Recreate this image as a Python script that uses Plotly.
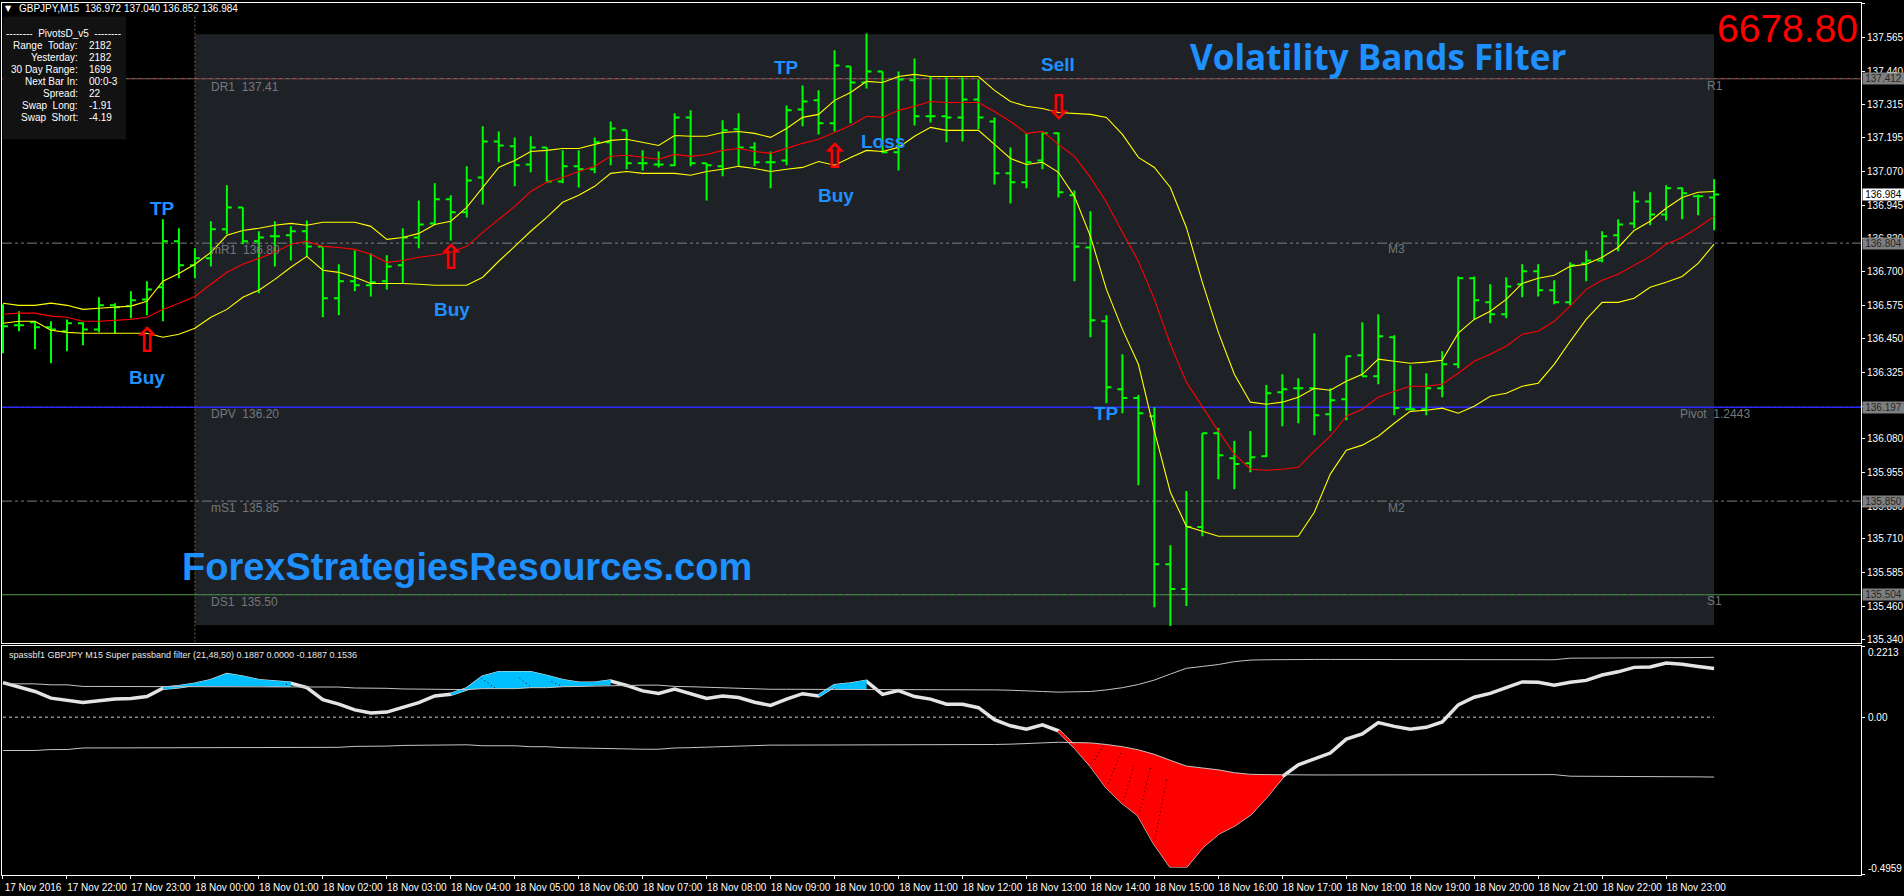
import plotly.graph_objects as go

# ---------- price data (GBPJPY M15, 108 bars) ----------
opens = [136.500,136.500,136.511,136.493,136.478,136.508,136.485,136.574,136.571,136.596,
136.641,136.811,136.722,136.748,136.855,136.936,136.811,136.829,136.833,136.848,
136.792,136.600,136.663,136.648,136.663,136.722,136.825,136.877,136.966,136.918,
137.047,137.180,137.162,137.095,137.158,137.032,137.088,137.077,137.177,137.221,
137.099,137.095,137.092,137.269,137.099,137.088,137.225,137.158,137.103,137.110,
137.298,137.332,137.247,137.457,137.398,137.439,137.140,137.406,137.273,137.273,
137.269,137.335,137.254,137.062,137.029,137.110,137.210,136.981,136.788,136.515,
136.264,136.231,136.164,135.617,135.525,135.754,136.101,136.009,135.990,136.016,
136.253,136.267,136.267,136.171,136.227,136.389,136.312,136.456,136.190,136.190,
136.267,136.356,136.674,136.585,136.541,136.652,136.700,136.630,136.585,136.729,
136.740,136.833,136.877,136.958,136.910,137.007,136.977,136.973]
highs = [136.578,136.552,136.515,136.515,136.522,136.511,136.604,136.582,136.626,136.663,
136.892,136.859,136.785,136.885,137.018,136.936,136.848,136.885,136.866,136.888,
136.788,136.726,136.777,136.766,136.759,136.859,136.962,137.025,136.981,137.088,
137.236,137.217,137.195,137.199,137.158,137.147,137.147,137.195,137.254,137.221,
137.147,137.143,137.284,137.295,137.099,137.258,137.284,137.177,137.143,137.313,
137.387,137.369,137.517,137.457,137.579,137.439,137.439,137.487,137.420,137.417,
137.417,137.409,137.269,137.158,137.210,137.213,137.213,136.999,136.922,136.537,
136.393,136.242,136.197,135.687,135.887,136.101,136.120,136.072,136.109,136.279,
136.319,136.304,136.471,136.267,136.386,136.511,136.541,136.463,136.352,136.323,
136.404,136.681,136.681,136.652,136.678,136.726,136.726,136.667,136.733,136.777,
136.848,136.892,136.995,136.992,137.018,137.010,136.984,137.040]
lows = [136.397,136.478,136.412,136.360,136.404,136.426,136.474,136.471,136.526,136.537,
136.515,136.674,136.674,136.718,136.837,136.800,136.619,136.718,136.740,136.755,
136.530,136.537,136.626,136.607,136.633,136.655,136.785,136.873,136.814,136.899,
136.947,137.103,137.014,137.066,137.032,137.025,137.010,137.062,137.092,137.077,
137.073,137.084,137.088,137.088,136.962,137.051,137.088,137.088,137.007,137.092,
137.236,137.206,137.217,137.247,137.376,137.136,137.073,137.239,137.250,137.177,
137.180,137.225,137.021,136.951,137.007,137.077,136.973,136.663,136.456,136.212,
136.175,135.909,135.458,135.388,135.462,135.720,135.931,135.894,135.957,136.012,
136.127,136.138,136.094,136.109,136.149,136.312,136.282,136.168,136.186,136.168,
136.234,136.341,136.522,136.508,136.526,136.604,136.607,136.578,136.574,136.663,
136.733,136.774,136.859,136.870,136.888,136.892,136.907,136.852]
closes = [136.497,136.500,136.493,136.485,136.508,136.485,136.574,136.567,136.593,136.633,
136.811,136.722,136.748,136.855,136.936,136.811,136.825,136.829,136.848,136.792,
136.600,136.663,136.648,136.659,136.718,136.825,136.873,136.966,136.918,137.036,
137.180,137.165,137.092,137.158,137.032,137.088,137.077,137.177,137.228,137.099,
137.099,137.095,137.269,137.099,137.092,137.221,137.158,137.103,137.103,137.295,
137.328,137.247,137.461,137.398,137.439,137.140,137.409,137.273,137.273,137.269,
137.335,137.269,137.062,137.029,137.103,137.210,136.992,136.792,136.519,136.271,
136.231,136.175,135.617,135.525,135.754,136.101,136.020,135.987,136.012,136.249,
136.264,136.267,136.168,136.223,136.386,136.312,136.460,136.194,136.190,136.267,
136.356,136.674,136.593,136.541,136.644,136.700,136.630,136.585,136.722,136.740,
136.829,136.873,136.958,136.910,137.007,136.988,136.977,136.984]
band_upper = [136.582,136.574,136.574,136.582,136.574,136.559,136.563,136.567,136.571,136.589,
136.663,136.692,136.726,136.770,136.833,136.851,136.859,136.870,136.877,136.870,
136.881,136.881,136.881,136.866,136.818,136.825,136.840,136.873,136.885,136.936,
137.010,137.084,137.110,137.143,137.147,137.154,137.154,137.169,137.184,137.188,
137.177,137.165,137.202,137.199,137.199,137.213,137.217,137.210,137.195,137.228,
137.269,137.280,137.332,137.361,137.402,137.398,137.420,137.428,137.420,137.420,
137.420,137.420,137.369,137.328,137.310,137.302,137.287,137.284,137.280,137.269,
137.206,137.121,137.084,137.010,136.862,136.659,136.474,136.319,136.216,136.208,
136.216,136.234,136.267,136.260,136.293,136.319,136.375,136.367,136.360,136.364,
136.371,136.471,136.522,136.552,136.596,136.655,136.674,136.685,136.718,136.726,
136.752,136.788,136.851,136.885,136.933,136.973,136.992,136.995]
band_mid = [136.541,136.545,136.545,136.534,136.530,136.515,136.515,136.519,136.522,136.530,
136.559,136.582,136.607,136.652,136.696,136.726,136.748,136.770,136.800,136.811,
136.792,136.788,136.781,136.763,136.733,136.740,136.752,136.759,136.770,136.792,
136.844,136.892,136.940,136.995,137.029,137.047,137.069,137.088,137.125,137.129,
137.121,137.114,137.132,137.125,137.132,137.147,137.154,137.143,137.136,137.154,
137.173,137.188,137.213,137.239,137.273,137.269,137.295,137.310,137.328,137.324,
137.324,137.324,137.291,137.254,137.210,137.217,137.169,137.125,137.047,136.955,
136.844,136.737,136.596,136.430,136.290,136.197,136.109,136.024,135.968,135.964,
135.968,135.975,136.035,136.090,136.164,136.190,136.234,136.256,136.275,136.275,
136.282,136.323,136.367,136.393,136.423,136.467,136.478,136.515,136.571,136.633,
136.667,136.689,136.722,136.755,136.800,136.825,136.862,136.903]
band_lower = [136.508,136.515,136.515,136.482,136.474,136.471,136.471,136.471,136.471,136.471,
136.456,136.467,136.489,136.530,136.559,136.604,136.630,136.670,136.715,136.755,
136.704,136.696,136.678,136.655,136.655,136.655,136.652,136.648,136.648,136.648,
136.678,136.737,136.792,136.848,136.899,136.955,136.981,137.014,137.062,137.069,
137.062,137.062,137.062,137.055,137.069,137.077,137.088,137.080,137.069,137.077,
137.084,137.106,137.092,137.121,137.147,137.143,137.158,137.199,137.232,137.221,
137.221,137.221,137.169,137.117,137.095,137.103,137.066,136.977,136.829,136.633,
136.485,136.356,136.109,135.883,135.757,135.739,135.720,135.720,135.720,135.720,
135.720,135.720,135.809,135.950,136.038,136.057,136.090,136.138,136.182,136.186,
136.194,136.175,136.201,136.238,136.249,136.275,136.286,136.356,136.441,136.522,
136.585,136.585,136.600,136.641,136.659,136.681,136.729,136.800]

# ---------- passband filter data ----------
filter_main = [0.109,0.094,0.081,0.060,0.052,0.046,0.052,0.057,0.059,0.065,
0.091,0.096,0.104,0.115,0.134,0.126,0.115,0.110,0.107,0.093,
0.055,0.041,0.023,0.013,0.016,0.031,0.046,0.067,0.072,0.089,
0.126,0.140,0.140,0.140,0.128,0.115,0.107,0.107,0.114,0.100,
0.083,0.075,0.089,0.075,0.059,0.067,0.062,0.047,0.037,0.057,
0.074,0.067,0.099,0.105,0.113,0.072,0.084,0.065,0.057,0.041,
0.041,0.030,-0.008,-0.027,-0.038,-0.024,-0.043,-0.092,-0.150,-0.218,
-0.268,-0.307,-0.396,-0.468,-0.468,-0.407,-0.365,-0.339,-0.304,-0.249,
-0.187,-0.150,-0.132,-0.113,-0.069,-0.053,-0.017,-0.029,-0.038,-0.032,
-0.015,0.039,0.063,0.075,0.093,0.111,0.110,0.101,0.110,0.116,
0.133,0.143,0.157,0.158,0.171,0.167,0.160,0.1536]
filter_upper = [0.105,0.105,0.105,0.102,0.102,0.097,0.097,0.097,0.097,0.097,
0.097,0.097,0.097,0.097,0.097,0.097,0.097,0.095,0.095,0.095,
0.095,0.095,0.092,0.092,0.091,0.089,0.089,0.087,0.087,0.087,
0.090,0.090,0.090,0.093,0.093,0.096,0.097,0.099,0.101,0.101,
0.101,0.101,0.097,0.096,0.094,0.092,0.090,0.090,0.088,0.088,
0.088,0.088,0.088,0.088,0.088,0.088,0.088,0.088,0.088,0.088,
0.087,0.086,0.086,0.085,0.082,0.081,0.079,0.079,0.081,0.086,
0.093,0.103,0.117,0.136,0.154,0.160,0.166,0.175,0.180,0.181,
0.182,0.182,0.182,0.182,0.182,0.182,0.182,0.181,0.181,0.181,
0.181,0.181,0.181,0.181,0.181,0.181,0.181,0.181,0.186,0.186,
0.186,0.186,0.188,0.188,0.188,0.188,0.188,0.1887]
filter_lower = [-0.105,-0.105,-0.105,-0.102,-0.102,-0.097,-0.097,-0.097,-0.097,-0.097,
-0.097,-0.097,-0.097,-0.097,-0.097,-0.097,-0.097,-0.095,-0.095,-0.095,
-0.095,-0.095,-0.092,-0.092,-0.091,-0.089,-0.089,-0.087,-0.087,-0.087,
-0.090,-0.090,-0.090,-0.093,-0.093,-0.096,-0.097,-0.099,-0.101,-0.101,
-0.101,-0.101,-0.097,-0.096,-0.094,-0.092,-0.090,-0.090,-0.088,-0.088,
-0.088,-0.088,-0.088,-0.088,-0.088,-0.088,-0.088,-0.088,-0.088,-0.088,
-0.087,-0.086,-0.086,-0.085,-0.082,-0.081,-0.079,-0.079,-0.081,-0.086,
-0.093,-0.103,-0.117,-0.136,-0.154,-0.160,-0.166,-0.175,-0.180,-0.181,
-0.182,-0.182,-0.182,-0.182,-0.182,-0.182,-0.182,-0.181,-0.181,-0.181,
-0.181,-0.181,-0.181,-0.181,-0.181,-0.181,-0.181,-0.181,-0.186,-0.186,
-0.186,-0.186,-0.188,-0.188,-0.188,-0.188,-0.188,-0.1887]

# faint black dotted strokes seen inside the filled filter areas
dot_bars = [68.8,68.1,None,69.9,69.05,None,70.7,70.06,None,71.75,71.07,None,72.76,72.04,None,
            29.9,30.8,None,32.3,33.0,None,34.3,34.9,None,17.75,17.55]
dot_values = [-0.090,-0.145,None,-0.113,-0.218,None,-0.153,-0.267,None,-0.160,-0.302,None,-0.197,-0.386,None,
              0.123,0.091,None,0.123,0.096,None,0.112,0.099,None,0.104,0.097]

# ---------- signals, levels, axis labels ----------
buy_bars = [9, 28, 52]
buy_prices = [136.432, 136.740, 137.114]
sell_bars = [66]
sell_prices = [137.295]
time_labels = ["17 Nov 2016", "17 Nov 22:00", "17 Nov 23:00"] + \
    ["18 Nov %02d:00" % h for h in range(24)]
time_positions = list(range(0, 108, 4))
price_ticks = [137.690,137.565,137.440,137.315,137.195,137.070,136.945,136.820,136.700,136.575,
               136.450,136.325,136.200,136.080,135.955,135.830,135.710,135.585,135.460,135.340]
filter_ticks = [0.2213, 0.0, -0.4959]
level_r1, level_m3, level_pivot, level_m2, level_s1 = 137.412, 136.804, 136.197, 135.850, 135.504
last_price = 136.984

W, H = 1904, 896
BLUE = "#1e90ff"
bars = list(range(len(closes)))
XR = [-0.0625, 116.1875]
YR = [135.327, 137.692]
Y2R = [-0.4959, 0.2242]

fig = go.Figure()

def line(y, color, width=1, xa="x", ya="y", dash=None):
    fig.add_trace(go.Scatter(x=bars, y=y, mode="lines", xaxis=xa, yaxis=ya, hoverinfo="skip",
                             line=dict(color=color, width=width, dash=dash), showlegend=False))

line(band_upper, "#ffff00", 1.1)
line(band_lower, "#ffff00", 1.1)
line(band_mid, "#ff0000", 1.1)

fig.add_trace(go.Ohlc(x=bars, open=opens, high=highs, low=lows, close=closes, tickwidth=0.31,
                      increasing=dict(line=dict(color="#00ff00", width=2)),
                      decreasing=dict(line=dict(color="#00ff00", width=2)),
                      hoverinfo="skip", showlegend=False))

arrow_font = dict(family="DejaVu Sans", size=34, color="#ff0000", weight="bold")
fig.add_trace(go.Scatter(x=buy_bars, y=buy_prices, mode="text", text=["\u21e7"] * len(buy_bars),
                         textposition="middle center", hoverinfo="skip", showlegend=False, textfont=arrow_font))
fig.add_trace(go.Scatter(x=sell_bars, y=sell_prices, mode="text", text=["\u21e9"] * len(sell_bars),
                         textposition="middle center", hoverinfo="skip", showlegend=False, textfont=arrow_font))

# filter panel
def fill_between(a, b, band, color):
    idx = list(range(a, b + 1))
    fig.add_trace(go.Scatter(x=idx + idx[::-1], y=[filter_main[i] for i in idx] + [band[i] for i in idx[::-1]],
                             fill="toself", fillcolor=color, mode="none", xaxis="x2", yaxis="y2",
                             hoverinfo="skip", showlegend=False))

fig.add_trace(go.Scatter(x=[0, 107], y=[0, 0], mode="lines", xaxis="x2", yaxis="y2", hoverinfo="skip",
                         line=dict(color="#d0d0d0", width=1, dash="3px,3px"), showlegend=False))
line(filter_main, "#e4e4e4", 3.5, "x2", "y2")
for a, b in [(10, 18), (29, 38), (52, 54)]:
    fill_between(a, b, filter_upper, "#00bfff")
fill_between(67, 80, filter_lower, "#ff0000")

def seg(a, b, color):
    idx = list(range(a, b + 1))
    fig.add_trace(go.Scatter(x=idx, y=[filter_main[i] for i in idx], mode="lines", xaxis="x2", yaxis="y2",
                             hoverinfo="skip", line=dict(color=color, width=2.5), showlegend=False))
seg(10, 18, "#00bfff"); seg(28, 38, "#00bfff"); seg(51, 54, "#00bfff"); seg(66, 80, "#ff0000")
line(filter_upper, "#c4c4c4", 1, "x2", "y2")
line(filter_lower, "#c4c4c4", 1, "x2", "y2")
fig.add_trace(go.Scatter(x=dot_bars, y=dot_values, mode="lines", xaxis="x2", yaxis="y2", hoverinfo="skip",
                         line=dict(color="#000000", width=1, dash="1px,3px"), showlegend=False))

# ---------- shapes ----------
shapes = []
def rect(x0, x1, y0, y1, color):
    shapes.append(dict(type="rect", xref="x", yref="y", x0=x0, x1=x1, y0=y0, y1=y1,
                       fillcolor=color, line=dict(width=0), layer="below"))
def hline(y, color, dash, width=1):
    shapes.append(dict(type="line", xref="x", yref="y", x0=XR[0], x1=XR[1], y0=y, y1=y,
                       line=dict(color=color, width=width, dash=dash), layer="below"))

rect(12, 107, 135.392, 137.576, "#1e2226")
GD = "10px,3px,3px,3px,3px,3px"
hline(level_r1, "#7f7f7f", "solid"); hline(level_r1, "#8c1c1c", "4px,3px")
hline(level_m3, "#7f7f7f", GD)
hline(level_pivot, "#7f7f7f", "solid", 0.6); hline(level_pivot, "#2a2aff", "5px,1px", 1.4)
hline(level_m2, "#7f7f7f", GD)
hline(level_s1, "#7f7f7f", "solid"); hline(level_s1, "#0c8c0c", "4px,3px")
rect(0, 7.69, 137.188, 137.642, "#121212")
shapes.append(dict(type="line", xref="x", yref="y", x0=12, x1=12, y0=YR[0], y1=137.642,
                   line=dict(color="#6b5a3a", width=1, dash="2px,2px"), layer="below"))

# ---------- text ----------
ann = []
def txt(px, py, text, size=10, color="#ffffff", anchor="left", family="Liberation Sans"):
    ann.append(dict(xref="paper", yref="paper", x=px / W, y=1 - py / H, text=text, showarrow=False,
                    xanchor=anchor, yanchor="middle", borderpad=0,
                    font=dict(family=family, size=size, color=color)))

def level_box(level, bg, fg):
    ann.append(dict(xref="paper", yref="y", x=1863 / W, y=level, text=f"{level:.3f}", showarrow=False,
                    xanchor="left", yanchor="middle", width=41, height=11, align="center", bgcolor=bg,
                    borderpad=0, font=dict(family="Liberation Sans", size=10, color=fg)))

for lv in (level_r1, level_m3, level_pivot, level_m2, level_s1):
    level_box(lv, "#7f7f7f", "#262626")
level_box(last_price, "#ffffff", "#000000")

txt(18, 9, "GBPJPY,M15&nbsp;&nbsp;136.972 137.040 136.852 136.984")
txt(9, 9, "\u25bc", 8, anchor="center", family="DejaVu Sans")
txt(64, 34, "--------&nbsp;&nbsp;PivotsD_v5&nbsp;&nbsp;--------", anchor="center")
info = [("Range&nbsp;&nbsp;Today:", "2182", 46), ("Yesterday:", "2182", 58), ("30 Day Range:", "1699", 70),
        ("Next Bar In:", "00:0-3", 82), ("Spread:", "22", 94), ("Swap&nbsp;&nbsp;Long:", "-1.91", 106),
        ("Swap&nbsp;&nbsp;Short:", "-4.19", 118)]
for label, value, y in info:
    txt(79, y, label, anchor="right")
    txt(88, y, value)

txt(1788, 29, "6678.80", 39, "#ff0000", "center")
txt(1379, 57, "<b>Volatility Bands Filter</b>", 35, BLUE, "center", "Open Sans")
txt(467, 568, "<b>ForexStrategiesResources.com</b>", 38, BLUE, "center")
for x, y, s in [(163, 209, "TP"), (787, 68, "TP"), (1107, 414, "TP"), (147, 378, "Buy"), (452, 310, "Buy"),
                (836, 196, "Buy"), (1059, 65, "Sell"), (883, 142, "Loss")]:
    txt(x, y, f"<b>{s}</b>", 19, BLUE, "center")

GT = "#74787c"
for x, y, s in [(210, 87, "DR1&nbsp;&nbsp;137.41"), (210, 251, "mR1&nbsp;&nbsp;136.80"), (210, 415, "DPV&nbsp;&nbsp;136.20"),
                (210, 509, "mS1&nbsp;&nbsp;135.85"), (210, 603, "DS1&nbsp;&nbsp;135.50")]:
    txt(x, y, s, 12, GT)
for x, y, s in [(1716, 86, "R1"), (1397, 250, "M3"), (1397, 509, "M2"), (1715, 602, "S1"),
                (1716, 415, "Pivot&nbsp;&nbsp;1.2443")]:
    txt(x, y, s, 12, GT, "center")

txt(8, 656, "spassbf1 GBPJPY M15 Super passband filter (21,48,50) 0.1887 0.0000 -0.1887 0.1536", 9, "#e8e8e8")

for v, shift in zip(filter_ticks, (-6, 0, 6)):
    ann.append(dict(xref="paper", yref="y2", x=1867 / W, y=v, yshift=shift, showarrow=False,
                    text="0.00" if v == 0 else f"{v:.4f}", xanchor="left", yanchor="middle",
                    font=dict(family="Liberation Sans", size=10, color="#ffffff")))

axis_font = dict(family="Liberation Sans", size=10, color="#ffffff")
base = dict(showgrid=False, zeroline=False, showline=True, mirror=True, linecolor="#ffffff", linewidth=1)
dom_x = [2 / W, 1862 / W]
fig.update_layout(
    width=W, height=H, margin=dict(l=0, r=0, t=0, b=0), autosize=False,
    paper_bgcolor="#000000", plot_bgcolor="rgba(0,0,0,0)", showlegend=False,
    shapes=shapes, annotations=ann,
    xaxis=dict(base, domain=dom_x, range=XR, anchor="y", showticklabels=False, ticks="",
               rangeslider=dict(visible=False)),
    yaxis=dict(base, domain=[1 - 644 / H, 1 - 3 / H], range=YR, anchor="x", side="right", ticks="outside",
               ticklen=3, tickcolor="#ffffff", tickmode="array", tickvals=price_ticks,
               ticktext=[f"{t:.3f}" for t in price_ticks], tickfont=axis_font),
    xaxis2=dict(base, domain=dom_x, range=XR, anchor="y2", ticks="outside", ticklen=3, tickcolor="#ffffff",
                tickmode="array", tickvals=time_positions, ticktext=time_labels, tickfont=axis_font,
                ticklabelshift=30, ticklabelstandoff=0),
    yaxis2=dict(base, domain=[1 - 876.5 / H, 1 - 647.5 / H], range=Y2R, anchor="x2", side="right",
                ticks="outside", ticklen=3, tickcolor="#ffffff", tickmode="array", tickvals=filter_ticks,
                showticklabels=False),
)

fig.write_html("out.html", config={"displayModeBar": False},
               post_script="document.body.style.margin='0';document.body.style.background='#000';")
